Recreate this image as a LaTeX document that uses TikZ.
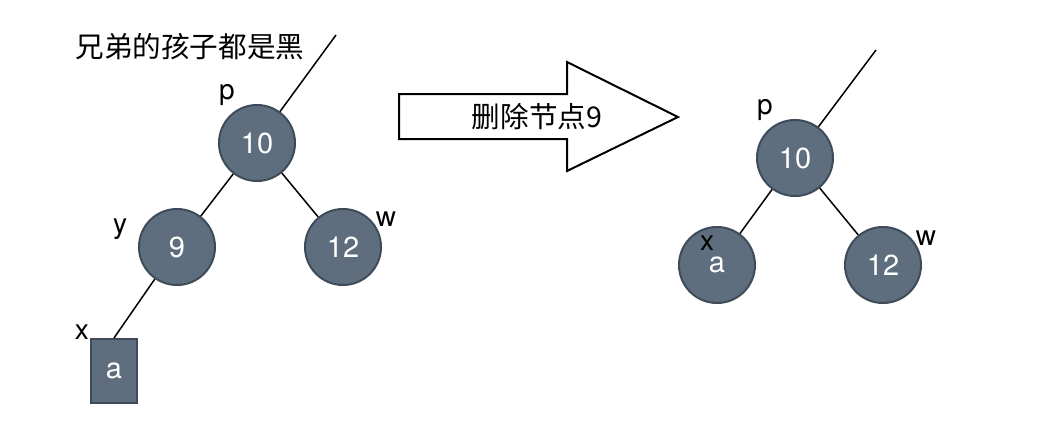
\documentclass[tikz,border=0pt]{standalone}
\usepackage{fontspec}
\setmainfont{TeX Gyre Heros}
\newfontfamily\cjk{Noto Sans CJK SC}
\usetikzlibrary{positioning}
\definecolor{NodeFill}{HTML}{5F6E7E}
\definecolor{NodeEdge}{HTML}{3E4B58}
\tikzset{
  rbnode/.style={circle,draw=NodeEdge,line width=1pt,fill=NodeFill,text=white,minimum size=38pt,inner sep=0pt,font=\fontsize{14.5}{16}\selectfont},
  leafbox/.style={rectangle,draw=NodeEdge,line width=1pt,fill=NodeFill,text=white,minimum width=23pt,minimum height=32pt,inner sep=0pt,font=\fontsize{14.5}{16}\selectfont},
  edge/.style={line width=0.75pt,draw=black},
  tag/.style={font=\fontsize{14}{16}\selectfont,inner sep=0pt},
  banner/.style={font=\cjk\fontsize{14.3}{16}\selectfont,inner sep=0pt}
}
\begin{document}
\begin{tikzpicture}[x=0.5pt,y=-0.5pt]
  \useasboundingbox (0,0) rectangle (1046,430);

  % before
  \node[banner] (title) at (190,47) {兄弟的孩子都是黑};
  \node[rbnode] (p10) at (257,143) {10};
  \node[rbnode] (y9) at (177,247) {9};
  \node[rbnode] (w12) at (343,247) {12};
  \node[leafbox] (xa) at (114,371) {a};
  \coordinate (up1) at (336,35);

  \draw[edge] (p10) -- (up1);
  \draw[edge] (p10) -- (y9);
  \draw[edge] (p10) -- (w12);
  \draw[edge] (y9) -- (xa.north);

  \node[tag] at (227,95) {p};
  \node[tag] at (120,229) {y};
  \node[tag] at (386,219) {w};
  \node[tag] at (82,332) {x};

  % arrow
  \draw[line width=1pt,fill=white] (399,94) -- (567,94) -- (567,62) -- (678,117)
    -- (567,171) -- (567,139) -- (399,139) -- cycle;
  \node[banner] (step) at (537,117) {删除节点9};

  % after
  \node[rbnode] (p10b) at (795,158) {10};
  \node[rbnode] (xab) at (717,265) {a};
  \node[rbnode] (w12b) at (883,265) {12};
  \coordinate (up2) at (876,50);

  \draw[edge] (p10b) -- (up2);
  \draw[edge] (p10b) -- (xab);
  \draw[edge] (p10b) -- (w12b);

  \node[tag] at (765,110) {p};
  \node[tag] at (707,243) {x};
  \node[tag] at (926,238) {w};
\end{tikzpicture}
\end{document}
